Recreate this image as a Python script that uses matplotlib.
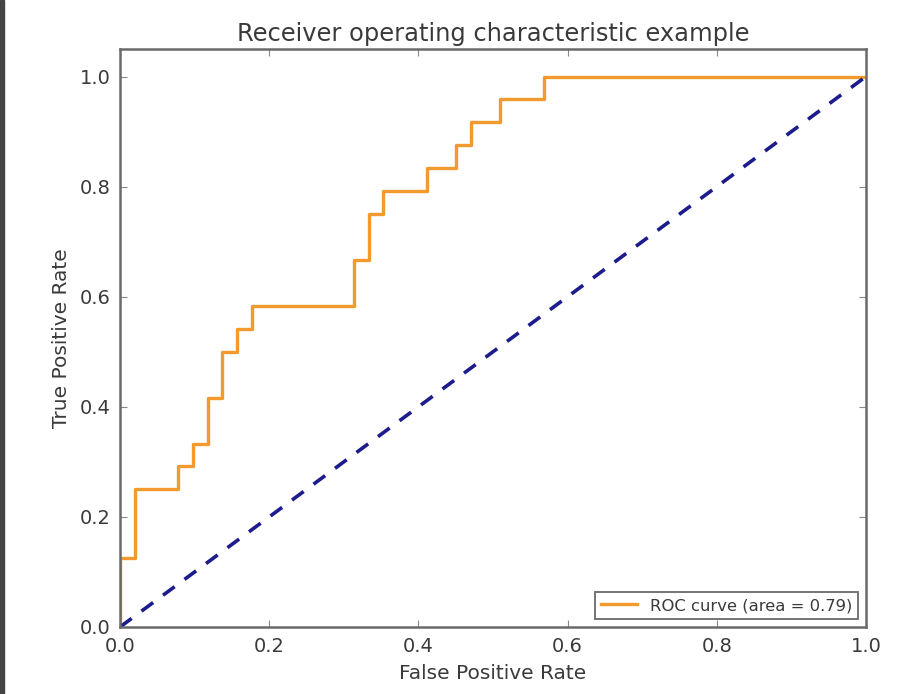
import matplotlib
matplotlib.use('Agg')
import matplotlib.pyplot as plt
from matplotlib.patches import Rectangle

# ROC points (51 negatives, 24 positives)
fpr = [0.0, 0.0, 0.0196, 0.0196, 0.0784, 0.0784, 0.0980, 0.0980, 0.1176, 0.1176,
       0.1373, 0.1373, 0.1569, 0.1569, 0.1765, 0.1765, 0.3137, 0.3137, 0.3333, 0.3333,
       0.3529, 0.3529, 0.4118, 0.4118, 0.4510, 0.4510, 0.4706, 0.4706, 0.5098, 0.5098,
       0.5686, 0.5686, 1.0]
tpr = [0.0, 0.125, 0.125, 0.25, 0.25, 0.2917, 0.2917, 0.3333, 0.3333, 0.4167,
       0.4167, 0.5, 0.5, 0.5417, 0.5417, 0.5833, 0.5833, 0.6667, 0.6667, 0.75,
       0.75, 0.7917, 0.7917, 0.8333, 0.8333, 0.875, 0.875, 0.9167, 0.9167, 0.9583,
       0.9583, 1.0, 1.0]
roc_auc = 0.79
chance_x = [0, 1]
chance_y = [0, 1]

TEXT = '#3a3a3a'

fig = plt.figure(figsize=(9.2, 6.94), dpi=100, facecolor='white')
ax = fig.add_axes([120 / 920, 1 - 627 / 694, 746 / 920, 578 / 694])

ax.plot(fpr, tpr, color='#f29a2e', lw=2.4,
        label='ROC curve (area = %0.2f)' % roc_auc)
ax.plot(chance_x, chance_y, color='#1c1c8c', lw=2.6, linestyle='--',
        dashes=(4, 3.4))
ax.set_xlim(0.0, 1.0)
ax.set_ylim(0.0, 1.05)
ax.set_xticks([0.0, 0.2, 0.4, 0.6, 0.8, 1.0])
ax.set_yticks([0.0, 0.2, 0.4, 0.6, 0.8, 1.0])
ax.tick_params(direction='in', length=5, color='#888888', labelsize=14,
               labelcolor=TEXT, top=True, right=True, pad=7)
for s in ax.spines.values():
    s.set_color('#6a6a6a')
    s.set_linewidth(1.8)
ax.set_xlabel('False Positive Rate', fontsize=14.5, color=TEXT, labelpad=6)
ax.set_ylabel('True Positive Rate', fontsize=14.5, color=TEXT, labelpad=6)
ax.set_title('Receiver operating characteristic example', fontsize=17.4,
             color=TEXT, pad=6)
leg = ax.legend(loc='lower right', fontsize=11.8, fancybox=False,
                handlelength=2.2, borderaxespad=0.5, borderpad=0.35,
                labelcolor=TEXT)
leg.get_frame().set_edgecolor('#444444')
leg.get_frame().set_linewidth(1.3)

# dark strip at the left edge of the screenshot
fig.patches.append(Rectangle((0, 0), 4 / 920, 1, transform=fig.transFigure,
                             color='#444444', zorder=0))

fig.savefig('out.png', dpi=100, facecolor='white')
